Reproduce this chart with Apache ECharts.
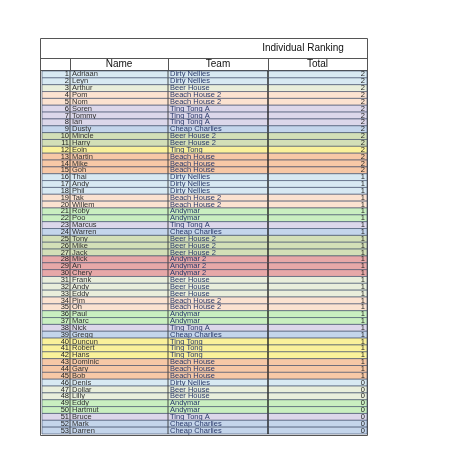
<!DOCTYPE html>
<html><head><meta charset="utf-8">
<script src="https://cdn.jsdelivr.net/npm/echarts@6/dist/echarts.min.js"></script>
<style>html,body{margin:0;background:#fff}#c{width:452px;height:452px}</style>
</head><body><div id="c"></div>
<script>
const names = ['Adriaan','Leyn','Arthur','Pom','Nom','Soren','Tommy','Ian','Dusty','Mincle','Harry','Eoin','Martin','Mike','Goh','Thai','Andy','Phil','Tak','Willem','Roby','Poo','Marcus','Warren','Tony','Mike','Jack','Mick','An','Chery','Frank','Andy','Eddy','Pim','Oh','Paul','Marc','Nick','Gregg','Duncun','Robert','Hans','Dominic','Gary','Bob','Denis','Dollar','Lilly','Eddy','Hartmut','Bruce','Mark','Darren'];
const teams = ['Dirty Nellies','Dirty Nellies','Beer House','Beach House 2','Beach House 2','Ting Tong A','Ting Tong A','Ting Tong A','Cheap Charlies','Beer House 2','Beer House 2','Ting Tong','Beach House','Beach House','Beach House','Dirty Nellies','Dirty Nellies','Dirty Nellies','Beach House 2','Beach House 2','Andymar','Andymar','Ting Tong A','Cheap Charlies','Beer House 2','Beer House 2','Beer House 2','Andymar 2','Andymar 2','Andymar 2','Beer House','Beer House','Beer House','Beach House 2','Beach House 2','Andymar','Andymar','Ting Tong A','Cheap Charlies','Ting Tong','Ting Tong','Ting Tong','Beach House','Beach House','Beach House','Dirty Nellies','Beer House','Beer House','Andymar','Andymar','Ting Tong A','Cheap Charlies','Cheap Charlies'];
const totals = [2,2,2,2,2,2,2,2,2,2,2,2,2,2,2,1,1,1,1,1,1,1,1,1,1,1,1,1,1,1,1,1,1,1,1,1,1,1,1,1,1,1,1,1,1,0,0,0,0,0,0,0,0];
const headers = ['Name','Team','Total'];
const teamColors = {
  'Dirty Nellies':'#d8e9f2','Beer House':'#e9eedb','Beer House 2':'#d3dfb7','Beach House 2':'#fbe2d0',
  'Beach House':'#f7c8a6','Ting Tong A':'#dcd7ea','Cheap Charlies':'#c4d5eb','Ting Tong':'#faf19a',
  'Andymar':'#c9efc0','Andymar 2':'#e7a8a8'
};
const cols = [0, 28, 126, 226, 325];

const chart = echarts.init(document.getElementById('c'));
const data = names.map((n, i) => [i, n, teams[i], totals[i]]);
const font = '7.5px "Liberation Sans", Arial, sans-serif';
const headFont = '10px "Liberation Sans", Arial, sans-serif';

chart.setOption({
  animation: false,
  grid: {left: 42, right: 85, top: 71, bottom: 18},
  xAxis: {type: 'value', min: 0, max: 325, show: false},
  yAxis: {type: 'category', inverse: true, data: names.map((n, i) => i), show: false},
  graphic: [
    {type: 'rect', shape: {x: 40.5, y: 38.5, width: 327, height: 397}, style: {fill: 'none', stroke: '#555', lineWidth: 1}},
    {type: 'line', shape: {x1: 40, y1: 58.5, x2: 368, y2: 58.5}, style: {stroke: '#555'}},
    {type: 'line', shape: {x1: 40, y1: 70.5, x2: 368, y2: 70.5}, style: {stroke: '#555'}},
    {type: 'text', x: 303, y: 48, style: {text: 'Individual Ranking', font: headFont, fill: '#111', align: 'center', verticalAlign: 'middle'}},
    ...headers.map((h, k) => ({type: 'text', x: 42 + (cols[k+1] + cols[k+2]) / 2, y: 64.5,
      style: {text: h, font: headFont, fill: '#111', align: 'center', verticalAlign: 'middle'}})),
    ...[1, 2, 3].map(k => ({type: 'line', shape: {x1: 42.5 + cols[k], y1: 58, x2: 42.5 + cols[k], y2: 71}, style: {stroke: '#555'}}))
  ],
  series: [{
    type: 'custom',
    data: data,
    clip: false,
    renderItem(params, api) {
      const i = api.value(0);
      const c = api.coord([0, i]);
      const h = api.size([0, 1])[1];
      const x0 = api.coord([cols[0], i])[0];
      const top = c[1] - h / 2;
      const d = data[params.dataIndex];
      const fill = teamColors[d[2]];
      const xs = cols.map(v => api.coord([v, i])[0]);
      return {type: 'group', children: [
        {type: 'rect', shape: {x: x0, y: top, width: xs[4] - x0, height: h}, style: {fill: fill, stroke: '#3d4a66', lineWidth: 0.6}},
        {type: 'line', shape: {x1: xs[1], y1: top, x2: xs[1], y2: top + h}, style: {stroke: '#222', lineWidth: 0.8}},
        {type: 'line', shape: {x1: xs[2], y1: top, x2: xs[2], y2: top + h}, style: {stroke: '#222', lineWidth: 0.8}},
        {type: 'line', shape: {x1: xs[3], y1: top, x2: xs[3], y2: top + h}, style: {stroke: '#111', lineWidth: 1.3}},
        {type: 'text', x: xs[1] - 1, y: c[1], style: {text: String(i + 1), font: font, fill: '#222', align: 'right', verticalAlign: 'middle'}},
        {type: 'text', x: xs[1] + 2, y: c[1], style: {text: d[1], font: font, fill: '#333', align: 'left', verticalAlign: 'middle'}},
        {type: 'text', x: xs[2] + 2, y: c[1], style: {text: d[2], font: font, fill: '#2a3a6a', align: 'left', verticalAlign: 'middle'}},
        {type: 'text', x: xs[4] - 2, y: c[1], style: {text: String(d[3]), font: font, fill: '#222', align: 'right', verticalAlign: 'middle'}}
      ]};
    }
  }]
});
</script>
</body></html>
